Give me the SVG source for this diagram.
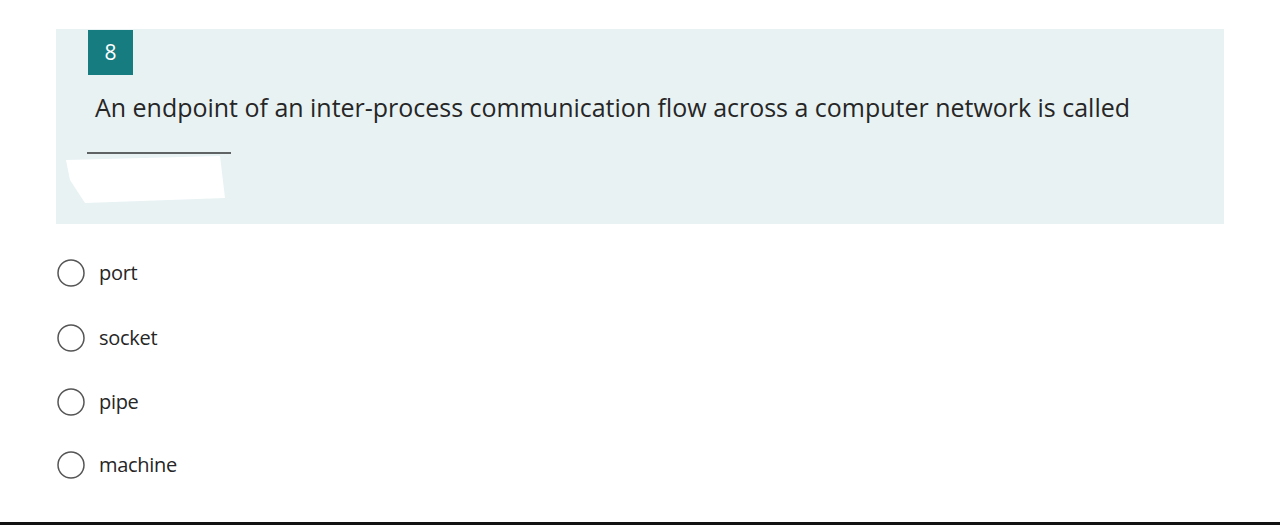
<svg xmlns="http://www.w3.org/2000/svg" width="1280" height="525" viewBox="0 0 1280 525">
<style>
.t{font-family:"Open Sans","Liberation Sans",sans-serif;fill:#262626}
.opt{font-size:20px;letter-spacing:-0.3px}
.r{fill:#fff;stroke:#555;stroke-width:1.5}
</style>
<rect width="1280" height="525" fill="#fff"/>
<rect x="56" y="29" width="1168" height="195" fill="#e8f2f3"/>
<g id="num"><rect x="88" y="30" width="45" height="45" fill="#167c80"/>
<text x="110.5" y="60" text-anchor="middle" font-family="Open Sans,Liberation Sans,sans-serif" font-size="21" fill="#fff">8</text></g>
<text class="t" x="95" y="117" font-size="25" textLength="1035" lengthAdjust="spacingAndGlyphs">An endpoint of an inter-process communication flow across a computer network is called</text>
<line x1="87" y1="153" x2="231" y2="153" stroke="#333" stroke-width="1.5"/>
<path d="M66 160 L220 156 L225 198 L85 203 L70 180 Z" fill="#fff"/>
<g id="o1"><circle class="r" cx="71" cy="273" r="13"/><text class="t opt" x="99" y="280">port</text></g>
<g id="o2"><circle class="r" cx="71" cy="338" r="13"/><text class="t opt" x="99" y="345">socket</text></g>
<g id="o3"><circle class="r" cx="71" cy="402" r="13"/><text class="t opt" x="99" y="409">pipe</text></g>
<g id="o4"><circle class="r" cx="71" cy="465" r="13"/><text class="t opt" x="99" y="472">machine</text></g>
<rect x="0" y="522" width="1280" height="3" fill="#111"/>
</svg>
